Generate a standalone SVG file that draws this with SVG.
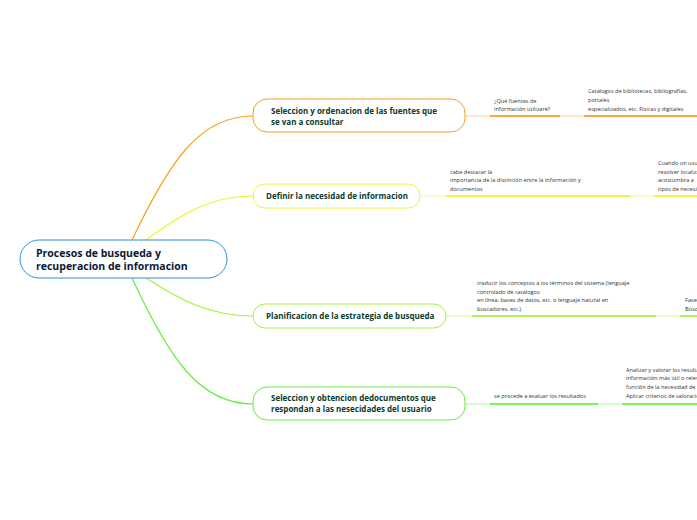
<svg xmlns="http://www.w3.org/2000/svg" width="697" height="520" viewBox="0 0 697 520">
<style>
.n{font-family:"Open Sans","Liberation Sans",sans-serif;font-weight:bold;font-size:8px;fill:#0b3b2c}
.r{font-family:"Open Sans","Liberation Sans",sans-serif;font-weight:bold;font-size:10.5px;fill:#0b1a33}
.s{font-family:"Open Sans","Liberation Sans",sans-serif;font-size:5.6px;fill:#333}
.c{fill:none;stroke-width:1.2}
</style>
<rect width="697" height="520" fill="#fff"/>
<g id="connectors">
<path class="c" stroke="#f7a21e" d="M132,240 C170,160 200,116 253,116"/>
<path class="c" stroke="#f2f23a" d="M146,240 C180,215 210,196 253,196"/>
<path class="c" stroke="#a8f03a" d="M146,278 C180,300 210,316 253,316"/>
<path class="c" stroke="#5ef03a" d="M132,278 C170,360 200,404 253,404"/>
<path class="c" stroke="#f7a21e" stroke-opacity="0.5" d="M465,116 H697"/>
<path stroke="#f7931e" stroke-width="1.5" d="M490,116 H560 M584,116 H697"/>
<path class="c" stroke="#f2f23a" stroke-opacity="0.5" d="M420,196 H697"/>
<path stroke="#f2f21e" stroke-width="1.5" d="M446,196 H630 M654,196 H697"/>
<path class="c" stroke="#a8f03a" stroke-opacity="0.5" d="M446,316 H697"/>
<path stroke="#9cf03a" stroke-width="1.5" d="M472,316 H656 M680,316 H697"/>
<path class="c" stroke="#5ef03a" stroke-opacity="0.5" d="M465,404 H697"/>
<path stroke="#5ef03a" stroke-width="1.5" d="M490,404 H598 M622,404 H697"/>
</g>
<g id="root"><rect x="20" y="240" width="207" height="38" rx="19" fill="#fff" stroke="#2e8fd8" stroke-width="1"/>
<text class="r" x="36" y="257">Procesos de busqueda y</text><text class="r" x="36" y="270">recuperacion de informacion</text></g>
<g id="n1"><rect x="253" y="99" width="212" height="33" rx="14" fill="#fff" stroke="#f7a21e"/>
<text class="n" x="271" y="114">Seleccion y ordenacion de las fuentes que</text><text class="n" x="271" y="125">se van a consultar</text></g>
<g id="n2"><rect x="253" y="184" width="167" height="24" rx="12" fill="#fff" stroke="#f2f23a"/>
<text class="n" x="266" y="199">Definir la necesidad de informacion</text></g>
<g id="n3"><rect x="253" y="304" width="193" height="24" rx="12" fill="#fff" stroke="#a8f03a"/>
<text class="n" x="266" y="319">Planificacion de la estrategia de busqueda</text></g>
<g id="n4"><rect x="253" y="387" width="212" height="33" rx="14" fill="#fff" stroke="#5ef03a"/>
<text class="n" x="271" y="401">Seleccion y obtencion dedocumentos que</text><text class="n" x="271" y="412">respondan a las nesecidades del usuario</text></g>
<g id="t1"><text class="s" x="494" y="103">¿Qué fuentes de</text><text class="s" x="494" y="111">información utilizaré?</text></g>
<g id="t2"><text class="s" x="588" y="93">Catálogos de bibliotecas, bibliografías,</text><text class="s" x="588" y="102">portales</text><text class="s" x="588" y="111">especializados, etc. Físicas y digitales</text></g>
<g id="t3"><text class="s" x="450" y="174">cabe destacar la</text><text class="s" x="450" y="182">importancia de la distinción entre la información y</text><text class="s" x="450" y="191">documentos</text></g>
<g id="t4"><text class="s" x="658" y="165">Cuando un usuario</text><text class="s" x="658" y="174">resolver localizar</text><text class="s" x="658" y="182">acostumbra a</text><text class="s" x="658" y="191">tipos de necesidad</text></g>
<g id="t5"><text class="s" x="477" y="285">traducir los conceptos a los términos del sistema (lenguaje</text><text class="s" x="477" y="294">controlado de catálogos</text><text class="s" x="477" y="302">en línea, bases de datos, etc. o lenguaje natural en</text><text class="s" x="477" y="311">buscadores, etc.).</text></g>
<g id="t6"><text class="s" x="685" y="302">Fases</text><text class="s" x="685" y="311">Búsq</text></g>
<g id="t7"><text class="s" x="494" y="398">se procede a evaluar los resultados</text></g>
<g id="t8"><text class="s" x="626" y="372">Analizar y valorar los resultados</text><text class="s" x="626" y="380">información más útil o relevante</text><text class="s" x="626" y="389">función de la necesidad de</text><text class="s" x="626" y="398">Aplicar criterios de valoración</text></g>
</svg>
